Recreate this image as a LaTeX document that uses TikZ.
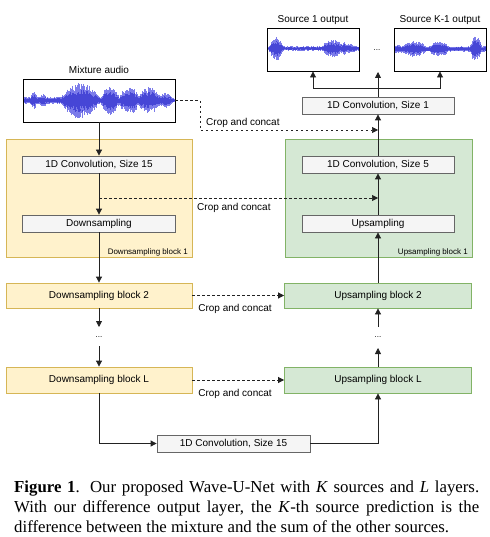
\documentclass[tikz,border=0pt]{standalone}
\usepackage{fontspec}
\setmainfont{Liberation Serif}
\newfontfamily\diagfont{Liberation Sans}
\usetikzlibrary{arrows.meta}
\definecolor{yfill}{HTML}{FFF2CC}
\definecolor{ydraw}{HTML}{D6B656}
\definecolor{gfill}{HTML}{D5E8D4}
\definecolor{gdraw}{HTML}{82B366}
\definecolor{bfill}{HTML}{F5F5F5}
\definecolor{bdraw}{HTML}{666666}
\definecolor{waveout}{HTML}{7C7CEA}
\definecolor{wavein}{HTML}{4646D6}
\definecolor{linec}{HTML}{222222}
\newcommand\drawwave[4]{%
  \foreach \t in {1,1.5,...,#3}{%
    \pgfmathsetmacro\envv{#4}%
    \pgfmathsetmacro\au{\envv*(0.5+0.5*rnd)}%
    \pgfmathsetmacro\ad{\envv*(0.5+0.5*rnd)}%
    \draw[waveout, line width=0.6pt] (#1+\t, #2-\au) -- (#1+\t, #2+\ad);
    \draw[wavein, line width=0.6pt] (#1+\t, #2-0.65*\au) -- (#1+\t, #2+0.65*\ad);
  }}
\begin{document}
\begin{tikzpicture}[x=1pt,y=-1pt,
  font=\diagfont\fontsize{10}{12}\selectfont,
  declare function={bump(\x,\c,\w,\h)=\h*max(0,1-((\x-\c)/\w)^2);},
  conv/.style={draw=bdraw, fill=bfill, line width=0.8pt, minimum height=17pt, inner sep=0pt},
  yblock/.style={draw=ydraw, fill=yfill, line width=0.8pt, minimum width=186pt, inner sep=0pt},
  gblock/.style={draw=gdraw, fill=gfill, line width=0.8pt, minimum width=187pt, inner sep=0pt},
  wavebox/.style={draw=black, line width=0.9pt, minimum width=92pt, minimum height=43pt, inner sep=0pt},
  arr/.style={draw=linec, line width=0.8pt, -{Triangle[length=6pt,width=6pt]}},
  plain/.style={draw=linec, line width=0.8pt},
  dashln/.style={draw=linec, line width=0.7pt, dash pattern=on 2.5pt off 2.5pt},
  darr/.style={dashln, -{Triangle[length=6pt,width=6pt]}},
  smalltxt/.style={font=\diagfont\fontsize{8}{10}\selectfont},
  lbl/.style={inner sep=0pt},
  captext/.style={font=\fontsize{16.8}{20}\selectfont, inner sep=0pt, anchor=base west}
]
\useasboundingbox (0,0) rectangle (489,537);
\pgfmathsetseed{7}
% blocks
\node[yblock, minimum height=118pt] (yb1) at (99,198) {};
\node[gblock, minimum height=118pt] (gb1) at (378.5,198) {};
\node[lbl, smalltxt, anchor=base east] (yb1l) at (188,254) {Downsampling block 1};
\node[lbl, smalltxt, anchor=base east] (gb1l) at (468,254) {Upsampling block 1};
\node[conv, minimum width=153pt] (conv15) at (99,164.5) {1D Convolution, Size 15};
\node[conv, minimum width=153pt] (down) at (99,223.5) {Downsampling};
\node[conv, minimum width=152pt] (conv5) at (378,164.5) {1D Convolution, Size 5};
\node[conv, minimum width=152pt] (up) at (378,223.5) {Upsampling};
\node[conv, minimum width=152pt] (conv1) at (378,105.5) {1D Convolution, Size 1};
\node[yblock, minimum height=25pt] (db2) at (99,295.5) {Downsampling block 2};
\node[gblock, minimum height=25pt] (ub2) at (378,295.5) {Upsampling block 2};
\node[yblock, minimum height=26pt] (dbL) at (99,380) {Downsampling block L};
\node[gblock, minimum height=26pt] (ubL) at (378,380) {Upsampling block L};
\node[conv, minimum width=153pt] (bconv) at (233.5,443.5) {1D Convolution, Size 15};
% audio boxes
\node[wavebox, minimum width=152pt] (mix) at (99,100.5) {};
\node[wavebox] (src1) at (313,49.5) {};
\node[wavebox] (srcK) at (440,49.5) {};
\node[lbl] (mixl) at (99,70) {Mixture audio};
\node[lbl] (src1l) at (313,20) {Source 1 output};
\node[lbl] (srcKl) at (440,20) {Source K-1 output};
\node[lbl, smalltxt] (dotsT) at (377,50) {...};
\node[lbl, smalltxt] (dotsL) at (99,337) {...};
\node[lbl, smalltxt] (dotsR) at (378,337) {...};
% waveforms
\drawwave{23}{100.5}{151}{3.8+bump(\t,11,3,5)+bump(\t,20,3,3)+bump(\t,57,19,14)+bump(\t,87,9,11)+bump(\t,106,10,11)+bump(\t,126,11,10)+bump(\t,142,8,4)-bump(\t,151,8,1.5)}
\drawwave{267}{48.5}{91}{2.3+bump(\t,9,7,10)+bump(\t,65,10,7)+bump(\t,80,10,2.5)+bump(\t,77,1.5,4)}
\drawwave{394}{49}{91}{2.6+bump(\t,3,8,1.5)+bump(\t,20,12,5.5)+bump(\t,45,10,5)+bump(\t,82,6,11)}
% coordinates
\coordinate (j) at (378,88);
\coordinate (jt) at (378,72);
\coordinate (c0) at (200,100.5);
\coordinate (e0) at (378,130);
\coordinate (c1) at (99,198);
\coordinate (e1) at (378,198);
\coordinate (dl1) at (99,327);
\coordinate (dl2) at (99,346);
\coordinate (dr1) at (378,327);
\coordinate (dr2) at (378,348);
% main path
\draw[arr] (mix.south) -- (conv15.north);
\draw[arr] (conv15.south) -- (down.north);
\draw[arr] (down.south) -- (db2.north);
\draw[arr] (db2.south) -- (dl1);
\draw[arr] (dl2) -- (dbL.north);
\draw[arr] (dbL.south) |- (bconv.west);
\draw[arr] (bconv.east) -| (ubL.south);
\draw[arr] (ubL.north) -- (dr2);
\draw[arr] (dr1) -- (ub2.south);
\draw[arr] (ub2.north) -- (up.south);
\draw[arr] (up.north) -- (conv5.south);
\draw[arr] (conv5.north) -- (conv1.south);
\draw[plain] (conv1.north) -- (j);
\draw[arr] (j) -| (src1.south);
\draw[arr] (j) -| (srcK.south);
\draw[arr] (j) -- (jt);
% crop and concat
\draw[darr] (mix.east) -- (c0) |- (e0);
\draw[darr] (c1) -- (e1);
\draw[darr] (db2.east) -- (ub2.west);
\draw[darr] (dbL.east) -- (ubL.west);
\node[lbl, anchor=west] (cc0) at (206,122.5) {Crop and concat};
\node[lbl, anchor=west] (cc1) at (197,207.7) {Crop and concat};
\node[lbl] (cc2) at (235,309.3) {Crop and concat};
\node[lbl] (cc3) at (235,394.3) {Crop and concat};
% caption
\node[captext] (cap1) at (14,492) {\hbox to 465pt{\textbf{Figure 1}. Our proposed Wave-U-Net with \textit{K} sources and \textit{L} layers.}};
\node[captext] (cap2) at (14,512) {\hbox to 465pt{With our difference output layer, the \textit{K}-th source prediction is the}};
\node[captext] (cap3) at (14,532) {difference between the mixture and the sum of the other sources.};
\end{tikzpicture}
\end{document}
